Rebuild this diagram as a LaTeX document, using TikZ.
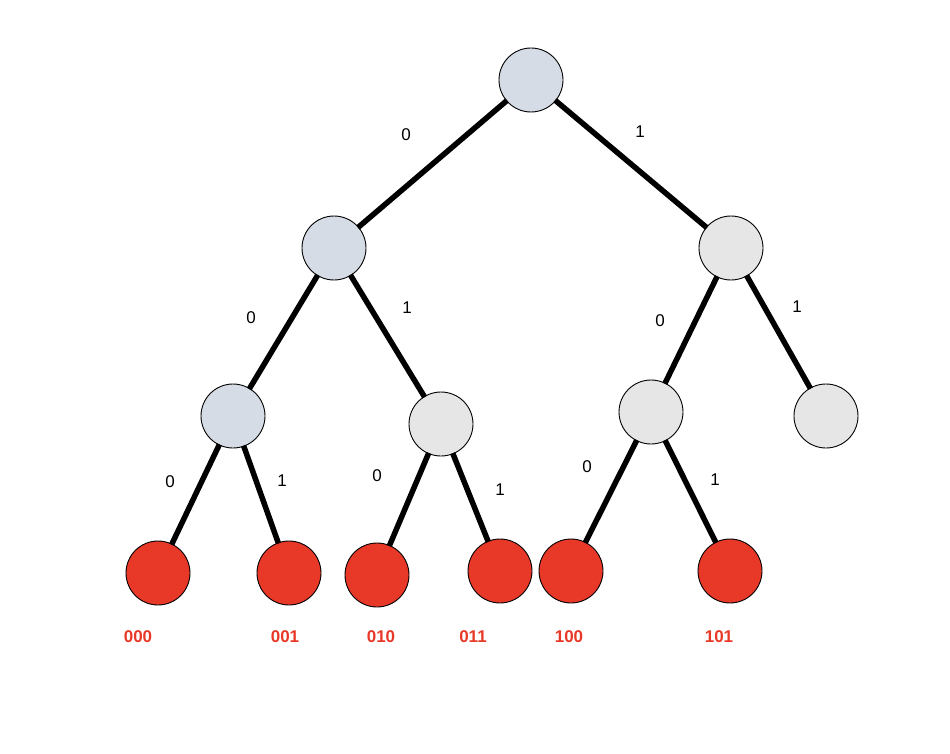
\documentclass[tikz,border=0pt]{standalone}
\usepackage{fontspec}
\setmainfont{Liberation Sans}
\definecolor{bluegray}{HTML}{D6DCE5}
\definecolor{lgray}{HTML}{E7E6E6}
\definecolor{leafred}{HTML}{E83828}
\begin{document}
\begin{tikzpicture}[x=1pt,y=-1pt,
  nd/.style={circle,draw=black,line width=0.9pt,minimum size=64pt,inner sep=0pt},
  bn/.style={nd,fill=bluegray},
  gn/.style={nd,fill=lgray},
  rn/.style={nd,fill=leafred},
  ed/.style={line width=5.5pt},
  lb/.style={font=\fontsize{17}{20}\selectfont},
  rl/.style={font=\fontsize{17}{20}\selectfont\bfseries,text=leafred}]
\useasboundingbox (0,0) rectangle (950,754);
\node[bn] (r) at (531,80) {};
\node[bn] (a) at (334,248) {};
\node[gn] (b) at (731,248) {};
\node[bn] (aa) at (233,416) {};
\node[gn] (ab) at (441,424) {};
\node[gn] (ba) at (651,412) {};
\node[gn] (bb) at (826,416) {};
\node[rn] (l1) at (158,573) {};
\node[rn] (l2) at (289,573) {};
\node[rn] (l3) at (377,575) {};
\node[rn] (l4) at (500,571) {};
\node[rn] (l5) at (571,571) {};
\node[rn] (l6) at (730,571) {};
\foreach \u/\v in {r/a,r/b,a/aa,a/ab,b/ba,b/bb,aa/l1,aa/l2,ab/l3,ab/l4,ba/l5,ba/l6}
  \draw[ed,shorten <=-1pt,shorten >=-1pt] (\u) -- (\v);
\node[lb] (t1) at (406,135) {0};
\node[lb] (t2) at (640,132) {1};
\node[lb] (t3) at (251,318) {0};
\node[lb] (t4) at (407,308) {1};
\node[lb] (t5) at (660,321) {0};
\node[lb] (t6) at (797,307) {1};
\node[lb] (t7) at (170,482) {0};
\node[lb] (t8) at (282,481) {1};
\node[lb] (t9) at (377,476) {0};
\node[lb] (t10) at (500,490) {1};
\node[lb] (t11) at (587,467) {0};
\node[lb] (t12) at (715,480) {1};
\node[rl] (c1) at (138,637) {000};
\node[rl] (c2) at (285,637) {001};
\node[rl] (c3) at (381,637) {010};
\node[rl] (c4) at (473,637) {011};
\node[rl] (c5) at (569,637) {100};
\node[rl] (c6) at (719,637) {101};
\end{tikzpicture}
\end{document}
